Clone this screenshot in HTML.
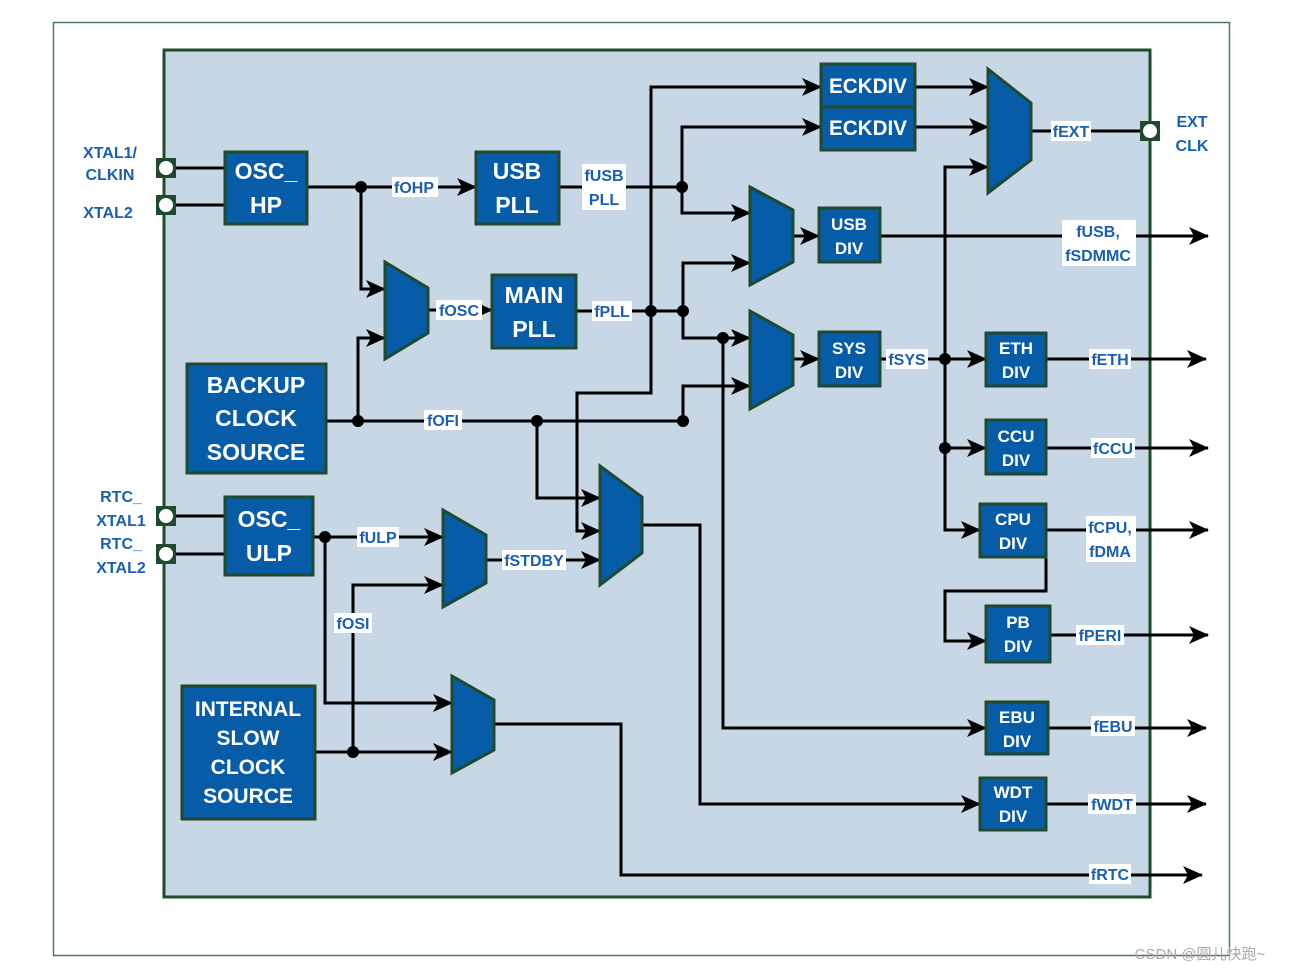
<!DOCTYPE html>
<html><head><style>
html,body{margin:0;padding:0;background:#fff}
svg{display:block}
.b{fill:#075ca8;stroke:#1f4a2e;stroke-width:3}
.t{fill:#fff;font-family:"Liberation Sans",sans-serif;font-weight:bold;text-anchor:middle}
.l{fill:#1a5fb0;font-family:"Liberation Sans",sans-serif;font-weight:bold;font-size:16px;text-anchor:middle}
.w{fill:#fff}
.k{stroke:#000;stroke-width:3;fill:none}
</style></head><body>
<svg width="1296" height="972" viewBox="0 0 1296 972" xmlns="http://www.w3.org/2000/svg">
<defs>
<marker id="a2" markerWidth="20" markerHeight="18" refX="19" refY="9" orient="auto" markerUnits="userSpaceOnUse"><path d="M0,0 L20,9 L0,18 L5,9 z" fill="#000"/></marker>
</defs>
<rect x="53.5" y="22.5" width="1176" height="933" fill="#fff" stroke="#4a7a5a" stroke-width="1.5"/>
<rect x="164" y="50" width="986" height="847" fill="#c8d7e6" stroke="#1e4d2b" stroke-width="3"/>

<g class="k" marker-end="url(#a2)">
<path d="M307,187 H476"/>
<path d="M361,187 V289 H385"/>
<path d="M358,421 V338 H385"/>
<path d="M428,310 H492"/>
<path d="M682,187 V127 H821"/>
<path d="M682,187 V213 H750"/>
<path d="M651,311 V87 H821"/>
<path d="M651,311 V393 H577 V531 H600"/>
<path d="M537,421 V498 H600"/>
<path d="M683,311 V263 H750"/>
<path d="M683,311 V338 H750"/>
<path d="M683,421 V386 H750"/>
<path d="M723,338 V728 H986"/>
<path d="M793,236 H819"/>
<path d="M793,359 H819"/>
<path d="M880,236 H1208"/>
<path d="M880,359 H986"/>
<path d="M945,359 V167 H988"/>
<path d="M945,359 V448 H986"/>
<path d="M945,448 V530 H980"/>
<path d="M915,87 H988"/>
<path d="M915,127 H988"/>
<path d="M1046,359 H1206"/>
<path d="M1046,448 H1208"/>
<path d="M1046,530 H1208"/>
<path d="M1046,557 V591 H945 V641 H986"/>
<path d="M1050,635 H1208"/>
<path d="M1048,728 H1206"/>
<path d="M1046,804 H1206"/>
<path d="M494,724 H621 V875 H1202"/>
<path d="M642,525 H700 V804 H980"/>
<path d="M313,537 H443"/>
<path d="M325,537 V703 H452"/>
<path d="M315,752 H452"/>
<path d="M353,752 V585 H443"/>
<path d="M486,560 H600"/>
</g>
<g class="k">
<path d="M166,168 H225 M166,205 H225 M166,516 H225 M166,554 H225"/>
<path d="M326,421 H683"/>
<path d="M559,187 H682"/>
<path d="M576,311 H683"/>
<path d="M1031,131 H1150"/>
</g>
<g fill="#000">
<circle cx="361" cy="187" r="6"/><circle cx="358" cy="421" r="6"/><circle cx="537" cy="421" r="6"/><circle cx="683" cy="421" r="6"/>
<circle cx="682" cy="187" r="6"/><circle cx="651" cy="311" r="6"/><circle cx="683" cy="311" r="6"/><circle cx="723" cy="338" r="6"/>
<circle cx="945" cy="359" r="6"/><circle cx="945" cy="448" r="6"/><circle cx="325" cy="537" r="6"/><circle cx="353" cy="752" r="6"/>
</g>

<g class="b">
<path d="M385,262 L428,288 L428,333 L385,359 Z"/>
<path d="M750,187 L793,210 L793,262 L750,285 Z"/>
<path d="M750,311 L793,335 L793,385 L750,409 Z"/>
<path d="M988,69 L1031,103 L1031,160 L988,193 Z"/>
<path d="M600,466 L642,497 L642,553 L600,585 Z"/>
<path d="M443,510 L486,535 L486,583 L443,607 Z"/>
<path d="M452,676 L494,700 L494,750 L452,773 Z"/>
</g>

<g class="b">
<rect x="225" y="152" width="82" height="72"/>
<rect x="476" y="152" width="83" height="72"/>
<rect x="492" y="275" width="84" height="73"/>
<rect x="187" y="364" width="139" height="109"/>
<rect x="225" y="497" width="88" height="78"/>
<rect x="182" y="686" width="133" height="133"/>
<rect x="821" y="64" width="94" height="43"/>
<rect x="821" y="107" width="94" height="43"/>
<rect x="819" y="208" width="61" height="54"/>
<rect x="819" y="332" width="61" height="54"/>
<rect x="986" y="333" width="60" height="53"/>
<rect x="986" y="420" width="60" height="54"/>
<rect x="980" y="504" width="66" height="53"/>
<rect x="986" y="606" width="64" height="56"/>
<rect x="986" y="702" width="62" height="52"/>
<rect x="980" y="778" width="66" height="52"/>
</g>
<g class="t" font-size="23">
<text x="266" y="179">OSC_</text><text x="266" y="213">HP</text>
<text x="517" y="179">USB</text><text x="517" y="213">PLL</text>
<text x="534" y="303">MAIN</text><text x="534" y="337">PLL</text>
<text x="256" y="393">BACKUP</text><text x="256" y="426">CLOCK</text><text x="256" y="460">SOURCE</text>
<text x="269" y="527">OSC_</text><text x="269" y="561">ULP</text>
</g>
<g class="t" font-size="21">
<text x="868" y="93" textLength="78" lengthAdjust="spacingAndGlyphs">ECKDIV</text><text x="868" y="135" textLength="78" lengthAdjust="spacingAndGlyphs">ECKDIV</text>
<text x="248" y="716">INTERNAL</text><text x="248" y="745">SLOW</text><text x="248" y="774">CLOCK</text><text x="248" y="803">SOURCE</text>
</g>
<g class="t" font-size="17">
<text x="849" y="230">USB</text><text x="849" y="254">DIV</text>
<text x="849" y="354">SYS</text><text x="849" y="378">DIV</text>
<text x="1016" y="354">ETH</text><text x="1016" y="378">DIV</text>
<text x="1016" y="442">CCU</text><text x="1016" y="466">DIV</text>
<text x="1013" y="525">CPU</text><text x="1013" y="549">DIV</text>
<text x="1018" y="628">PB</text><text x="1018" y="652">DIV</text>
<text x="1017" y="723">EBU</text><text x="1017" y="747">DIV</text>
<text x="1013" y="798">WDT</text><text x="1013" y="822">DIV</text>
</g>

<g>
<rect x="156" y="158" width="20" height="20" fill="#1f4a2e"/><circle cx="166" cy="168" r="7" fill="#fff"/>
<rect x="156" y="195" width="20" height="20" fill="#1f4a2e"/><circle cx="166" cy="205" r="7" fill="#fff"/>
<rect x="156" y="506" width="20" height="20" fill="#1f4a2e"/><circle cx="166" cy="516" r="7" fill="#fff"/>
<rect x="156" y="544" width="20" height="20" fill="#1f4a2e"/><circle cx="166" cy="554" r="7" fill="#fff"/>
<rect x="1140" y="121" width="20" height="20" fill="#1f4a2e"/><circle cx="1150" cy="131" r="7" fill="#fff"/>
</g>

<g class="w">
<rect x="392" y="177" width="46" height="20"/>
<rect x="582" y="164" width="44" height="46"/>
<rect x="436" y="300" width="46" height="20"/>
<rect x="592" y="301" width="40" height="20"/>
<rect x="424" y="410" width="38" height="20"/>
<rect x="1051" y="121" width="40" height="20"/>
<rect x="1062" y="220" width="74" height="46"/>
<rect x="886" y="349" width="42" height="20"/>
<rect x="1089" y="349" width="42" height="20"/>
<rect x="1091" y="438" width="44" height="20"/>
<rect x="1086" y="516" width="50" height="46"/>
<rect x="1076" y="625" width="48" height="20"/>
<rect x="1091" y="716" width="44" height="20"/>
<rect x="1088" y="794" width="48" height="20"/>
<rect x="1089" y="864" width="42" height="20"/>
<rect x="357" y="527" width="42" height="20"/>
<rect x="502" y="550" width="64" height="20"/>
<rect x="334" y="613" width="38" height="20"/>
</g>
<g class="l">
<text x="414" y="193">fOHP</text>
<text x="604" y="181">fUSB</text><text x="604" y="205">PLL</text>
<text x="459" y="316">fOSC</text>
<text x="612" y="317">fPLL</text>
<text x="443" y="426">fOFI</text>
<text x="1071" y="137">fEXT</text>
<text x="1098" y="237">fUSB,</text><text x="1098" y="261">fSDMMC</text>
<text x="907" y="365">fSYS</text>
<text x="1110" y="365">fETH</text>
<text x="1113" y="454">fCCU</text>
<text x="1110" y="533">fCPU,</text><text x="1110" y="557">fDMA</text>
<text x="1100" y="641">fPERI</text>
<text x="1113" y="732">fEBU</text>
<text x="1112" y="810">fWDT</text>
<text x="1110" y="880">fRTC</text>
<text x="378" y="543">fULP</text>
<text x="534" y="566">fSTDBY</text>
<text x="353" y="629">fOSI</text>
<text x="110" y="158">XTAL1/</text><text x="110" y="180">CLKIN</text>
<text x="108" y="218">XTAL2</text>
<text x="121" y="502">RTC_</text><text x="121" y="526">XTAL1</text>
<text x="121" y="549">RTC_</text><text x="121" y="573">XTAL2</text>
<text x="1192" y="127">EXT</text><text x="1192" y="151">CLK</text>
</g>
<text x="1200" y="959" font-family="'Liberation Sans','Noto Sans CJK SC',sans-serif" font-size="15" fill="#aaa" text-anchor="middle">CSDN @圆儿快跑~</text>
</svg>
</body></html>
